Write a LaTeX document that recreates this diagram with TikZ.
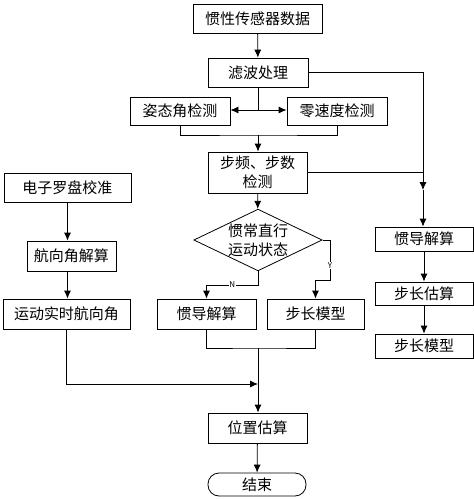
\documentclass[tikz,border=0pt]{standalone}
\usepackage{fontspec}
\setmainfont{Noto Sans CJK SC}
\usetikzlibrary{arrows.meta,shapes.geometric}
\begin{document}
\begin{tikzpicture}[x=1pt,y=-1pt,
  every node/.style={font=\fontsize{15}{18}\selectfont},
  box/.style={draw,line width=0.8pt,inner sep=0pt,align=center},
  arr/.style={line width=0.8pt,-{Latex[length=8pt,width=7pt]}},
  ln/.style={line width=0.8pt},
  lab/.style={font=\fontsize{8}{9}\selectfont,inner sep=0.5pt,fill=white}]
\useasboundingbox (0,0) rectangle (474,499);
\node[box,minimum width=129pt,minimum height=29pt] (s1) at (257.5,18.5) {惯性传感器数据};
\node[box,minimum width=100pt,minimum height=29pt] (s2) at (258,72.5) {滤波处理};
\node[box,minimum width=100pt,minimum height=28pt] (s3) at (180,111) {姿态角检测};
\node[box,minimum width=100pt,minimum height=28pt] (s4) at (337,111) {零速度检测};
\node[box,minimum width=99pt,minimum height=41pt,font=\fontsize{15}{19}\selectfont] (s5) at (257.5,172.5) {步频、步数\\检测};
\node[draw,line width=0.8pt,diamond,aspect=2.08,minimum width=127pt,minimum height=61pt,inner sep=0pt,align=center,font=\fontsize{15}{19}\selectfont] (d) at (258,240) {惯常直行\\运动状态};
\node[box,minimum width=99pt,minimum height=30pt] (m1) at (206.5,314) {惯导解算};
\node[box,minimum width=97pt,minimum height=30pt] (m2) at (315.5,314) {步长模型};
\node[box,minimum width=127pt,minimum height=29pt] (l1) at (67.5,187.5) {电子罗盘校准};
\node[box,minimum width=89pt,minimum height=30pt] (l2) at (71.5,256) {航向角解算};
\node[box,minimum width=127pt,minimum height=30pt] (l3) at (66.5,314) {运动实时航向角};
\node[box,minimum width=98pt,minimum height=24pt] (r1) at (424,239) {惯导解算};
\node[box,minimum width=98pt,minimum height=23pt] (r2) at (424,293.5) {步长估算};
\node[box,minimum width=98pt,minimum height=24pt] (r3) at (424,346) {步长模型};
\node[box,minimum width=99pt,minimum height=30pt] (p) at (257.5,428) {位置估算};
\node[box,rounded corners=11pt,minimum width=98pt,minimum height=23pt] (e) at (257,484.5) {结束};
% coordinates
\coordinate (j1) at (258,110);
\coordinate (j2) at (258,135);
\coordinate (rc) at (423,190);
\coordinate (j3) at (258,348);
\coordinate (nn) at (258,285);
\coordinate (yy) at (330,280);
\coordinate (lj) at (258,384);
% main flow
\draw[arr] (s1) -- (s2);
\draw[ln] (s2) -- (j1);
\draw[arr] (j1) -- (s3.east |- j1);
\draw[arr] (j1) -- (s4.west |- j1);
\draw[ln] (s3.south) |- (j2) -| (s4.south);
\draw[arr] (j2) -- (s5.north -| j2);
\draw[arr] (s5) -- (d);
% right branch
\draw[arr] (s2.east) -| (rc);
\draw[ln] (s5.east) -- (s5.east -| rc);
\draw[arr] (rc) -- (r1.north -| rc);
\draw[arr] (r1) -- (r2);
\draw[arr] (r2) -- (r3);
% diamond branches
\draw[arr] (d.south) -- (nn) -| node[lab,pos=0.25] {N} (m1.north);
\draw[arr] (d.east) -| node[lab,pos=0.82] {Y} (yy) -| (m2.north);
% merge
\draw[ln] (m1.south) |- (j3) -| (m2.south);
\draw[arr] (j3) -- (p.north -| j3);
\draw[arr] (p) -- (e);
% left branch
\draw[arr] (l1.south) -- (l1.south |- l2.north);
\draw[arr] (l2.south -| l1.south) -- (l3.north -| l1.south);
\draw[arr] (l3.south) |- (lj);
\end{tikzpicture}
\end{document}
